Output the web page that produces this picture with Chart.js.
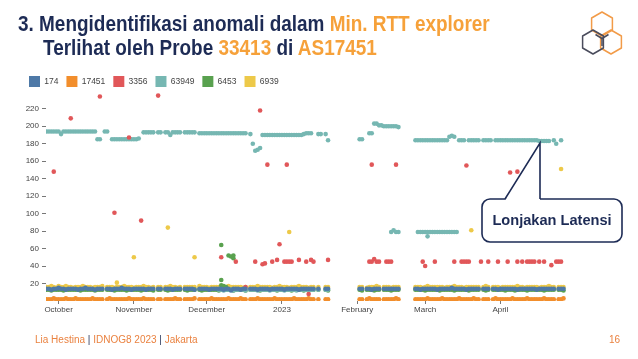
<!DOCTYPE html>
<html>
<head>
<meta charset="utf-8">
<script src="https://cdn.jsdelivr.net/npm/chart.js@4.4.1/dist/chart.umd.min.js"></script>
<style>
  html, body { margin: 0; padding: 0; background: #fff; }
  body { width: 638px; height: 359px; position: relative; overflow: hidden; font-family: 'Liberation Sans', Arial, sans-serif; }
  #chart { position: absolute; left: 0; top: 0; }
  .title { position: absolute; white-space: nowrap; font-weight: bold; font-size: 22px; line-height: 1; color: #1d2b55;
           font-family: 'Liberation Sans Narrow', 'Liberation Sans', Arial, sans-serif; transform-origin: 0 0; }
  .title .hl { color: #f6a13a; }
  #footer { position: absolute; left: 35px; top: 335px; font-size: 10px; line-height: 1; color: #ea8240; white-space: nowrap; }
  #footer .sep { color: #2d3a5e; }
  #page { position: absolute; left: 598px; width: 22px; text-align: right; top: 335px; font-size: 10px; line-height: 1; color: #ea8240; }
  svg.overlay { position: absolute; left: 0; top: 0; pointer-events: none; }
</style>
</head>
<body>
<canvas id="chart" width="638" height="359"></canvas>

<div class="title" id="t1" style="left:18px; top:13px;">3. Mengidentifikasi anomali dalam <span class="hl">Min. RTT explorer</span></div>
<div class="title" id="t2" style="left:43px; top:37px;">Terlihat oleh Probe <span class="hl">33413</span> di <span class="hl">AS17451</span></div>

<svg class="overlay" width="638" height="359">
  <!-- logo -->
  <g fill="none" stroke-width="1.5" stroke-linejoin="round">
    <polygon points="602,12 612.4,18 612.4,30 602,36 591.6,30 591.6,18" stroke="#f29b48"/>
    <polygon points="611,30 621.4,36 621.4,48 611,54 600.6,48 600.6,36" stroke="#f29b48"/>
    <polygon points="593,30 603.4,36 603.4,48 593,54 582.6,48 582.6,36" stroke="#4a4c5c"/>
    <polyline points="595.5,34.5 602,38.5 608.5,34.5" stroke="#4a4c5c"/>
    <line x1="602" y1="38.5" x2="602" y2="46" stroke="#4a4c5c"/>
  </g>
  <!-- callout -->
  <rect x="482" y="199" width="140" height="43" rx="8" fill="#fff" stroke="#1d2b55" stroke-width="1.6"/>
  <polygon points="505,200.5 540,143 540,200.5" fill="#fff"/>
  <polyline points="505,199 540,143 540,199" fill="none" stroke="#1d2b55" stroke-width="1.6"/>
  <text x="552" y="225" text-anchor="middle" font-family="Liberation Sans, Arial, sans-serif" font-weight="bold" font-size="14.6" fill="#1d2b55">Lonjakan Latensi</text>
</svg>

<div id="footer">Lia Hestina <span class="sep">|</span> IDNOG8 2023 <span class="sep">|</span> Jakarta</div>
<div id="page">16</div>

<script>
// day 0 = 1 Oct 2022, daily arrays begin at DAY0 (26 Sep 2022)
const _ = null;
const DAY0 = -5;

const monthDays = [0, 31, 61, 92, 123, 151, 182];
const monthLabels = ['October', 'November', 'December', '2023', 'February', 'March', 'April'];
const yTicks = [20, 40, 60, 80, 100, 120, 140, 160, 180, 200, 220];

// min RTT (ms) per day
const as174 = [
  14,14,13,14,14,15,14,14,13,14, 14,14,14,13,14,14,15,14,14,14, 13,14,14,14,_,14,14,13,14,14,
  14,15,14,14,14,13,14,14,14,14, 14,13,14,14,14,_,14,14,_,14, 14,14,13,14,14,14,_,14,14,14,
  14,13,_,14,14,14,14,13,14,14, 14,14,14,13,14,14,12,14,14,14, 13,14,14,_,14,14,14,13,14,14,
  14,14,13,14,14,14,14,14,13,14, 14,14,14,14,13,14,14,14,14,14, 14,_,14,_,_,14,14,_,_,_,
  _,_,_,_,_,_,_,_,_,14, 14,_,14,14,13,14,14,14,_,14, 14,14,14,14,14,14,_,_,_,_,
  _,_,14,14,13,14,14,14,14,14, 14,13,14,14,14,14,14,15,14,14, 14,14,14,13,14,14,14,14,14,_,
  14,14,14,_,14,14,13,14,14,14, 14,14,14,14,13,14,14,14,14,14, 14,14,13,14,14,14,14,14,14,14,
  _,14,14,14
];
const as17451 = [
  2,2,2,3,2,2,2,2,3,2, 2,2,3,2,2,2,2,2,2,3, 2,2,2,2,_,2,3,2,2,2,
  2,2,2,2,3,2,2,2,2,2, 3,2,2,2,2,_,2,2,_,2, 2,2,2,3,2,2,_,2,2,2,
  2,3,_,2,2,2,2,2,3,2, 2,2,2,2,2,3,2,2,2,2, 3,2,2,_,2,2,2,3,2,2,
  2,2,2,2,3,2,2,2,2,2, 2,2,3,2,2,2,2,2,3,2, 2,_,2,_,_,2,2,_,_,_,
  _,_,_,_,_,_,_,_,_,2, 2,_,2,3,2,2,2,2,_,2, 2,2,2,2,3,2,_,_,_,_,
  _,_,2,2,2,2,2,3,2,2, 2,2,2,3,2,2,2,2,2,2, 3,2,2,2,2,2,3,2,2,_,
  2,2,2,_,2,3,2,2,2,2, 2,2,3,2,2,2,2,2,3,2, 2,2,2,2,2,3,2,2,2,2,
  _,2,2,3
];
const as63949 = [
  194,194,194,194,194,194,191,194,194,194, 194,194,194,194,194,194,194,194,194,194, 194,185,185,_,194,194,_,185,185,185,
  185,185,185,185,185,185,185,185,186,_, 193,193,193,193,193,_,193,193,_,193, 193,190,193,193,193,193,_,193,193,193,
  193,193,_,192,192,192,192,192,192,192, 192,192,192,192,192,192,192,192,192,192, 192,192,192,_,191,180,172,173,175,190,
  190,190,190,190,190,190,190,190,190,190, 190,190,190,190,190,190,191,192,192,192, _,_,191,191,_,191,184,_,_,_,
  _,_,_,_,_,_,_,_,_,185, 185,_,_,192,192,203,203,201,201,200, 200,200,200,200,200,199,_,_,_,_,
  _,_,184,184,184,184,184,184,184,184, 184,184,184,184,184,184,188,189,188,_, 184,184,184,_,184,184,184,184,184,_,
  184,184,184,184,_,184,184,184,184,184, 184,184,184,184,184,184,184,184,184,184, 184,184,184,183,183,183,183,183,_,184,
  180,_,184,_
];
// second 63949 band near the bottom, from day 66
const LOW63949_START = 66;
const as63949Low = [
  13,13,12,13,13,13,12,13,13,13,13,12, _,
  13,13,13,12,13,13,13,13,12,13,13,13,13,13,12,13,13,13,13,12,13,13,13,13,12,13,13,
  _, 13, _,_, 13,13
];
const as6453 = [
  13,13,12,13,13,13,13,12,13,13, 13,13,13,13,12,13,13,13,13,13, 12,13,13,13,_,13,13,13,12,13,
  13,13,13,12,13,13,13,13,13,12, 13,13,13,13,12,_,13,13,_,13, 12,13,13,13,13,13,_,13,12,13,
  13,13,_,13,12,13,13,13,13,13, 13,12,13,13,13,13,13,12,13,13, 13,13,12,_,13,13,13,13,12,13,
  13,13,13,13,13,12,13,13,13,13, 13,12,13,13,13,13,12,13,13,13, 13,_,13,_,_,13,12,_,_,_,
  _,_,_,_,_,_,_,_,_,13, 12,_,13,13,13,12,13,13,_,13, 13,13,12,13,13,13,_,_,_,_,
  _,_,13,13,13,13,12,13,13,13, 13,13,12,13,13,13,13,13,12,13, 13,13,13,13,12,13,13,13,13,_,
  13,12,13,_,13,13,13,13,13,12, 13,13,13,12,13,13,13,13,12,13, 13,13,13,13,13,12,13,13,13,13,
  _,13,13,12
];
const as6939 = [
  16,16,17,16,15,16,16,16,17,16, 16,15,16,16,16,17,16,16,16,15, 16,16,16,17,_,16,16,16,15,16,
  16,16,17,16,16,16,15,16,16,16, 17,16,16,15,16,_,16,16,_,16, 16,17,16,16,15,16,_,16,16,16,
  16,16,_,17,16,16,16,15,16,16, 16,16,15,16,16,17,16,16,16,16, 16,15,16,_,16,16,16,17,16,16,
  16,16,16,15,16,16,17,16,16,16, 15,16,16,16,17,16,16,16,15,16, 16,_,16,_,_,16,16,_,_,_,
  _,_,_,_,_,_,_,_,_,16, 16,_,15,16,16,16,17,16,_,16, 16,16,15,16,16,16,_,_,_,_,
  _,_,16,16,16,15,16,17,16,16, 16,16,16,16,15,16,16,16,17,16, 16,16,15,16,16,16,16,16,16,_,
  16,17,16,_,16,16,16,15,16,16, 16,16,16,16,17,16,16,15,16,16, 16,16,16,15,16,16,16,17,16,16,
  _,16,16,16
];

// scattered readings [day, ms]
const as3356Pts = [
  [-2,148],[5,209],[17,234],[23,101],[29,187],[34,92],[41,235],[67,50],[73,45],[77,16],
  [81,45],[83,218],[84,42],[85,43],[86,156],[88,45],[90,47],[91,65],[93,45],[94,45],[94,156],
  [95,45],[96,45],[99,47],[102,45],[103,8],[104,47],[105,45],[111,47],
  [128,45],[129,45],[129,156],[130,48],[131,45],[132,45],[135,45],[136,45],[137,45],[139,156],
  [150,45],[151,40],[155,45],[163,45],[166,45],[167,45],[168,45],[168,155],[169,45],[174,45],
  [177,45],[181,45],[185,45],[186,147],[189,45],[189,148],[191,45],[193,45],[194,45],[195,45],
  [196,45],[198,45],[200,45],[203,41],[205,45],[206,45],[207,45]
];
const as63949Pts = [
  [137,79],[138,81],[139,79],[140,79],[148,79],[149,79],[150,79],[151,79],[152,79],[152,74],
  [153,79],[154,79],[155,79],[156,79],[157,79],[158,79],[159,79],[160,79],[161,79],[162,79],
  [163,79],[164,79]
];
const as6453Pts = [[67,64],[67,24],[67,18],[68,17],[69,16],[70,52],[71,51],[72,52],[72,49]];
const as6939Pts = [[0,17],[24,21],[31,50],[45,84],[56,50],[95,79],[170,81],[207,151]];
const offScalePts = [[210,250]]; // 6939 above the axis range

const labels = ['174', '17451', '3356', '63949', '6453', '6939'];
const colors = ['#4e79a7', '#f28e2c', '#e15759', '#76b7b2', '#59a14f', '#edc949'];

function daily(values, start) {
  return values.map((v, i) => v === null ? null : { x: start + i, y: v }).filter(Boolean);
}
function pairs(list) {
  return list.map(([x, y]) => ({ x: x, y: y }));
}

const seriesPoints = [
  daily(as174, DAY0),
  daily(as17451, DAY0),
  pairs(as3356Pts),
  daily(as63949, DAY0).concat(daily(as63949Low, LOW63949_START), pairs(as63949Pts)),
  daily(as6453, DAY0).concat(pairs(as6453Pts)),
  daily(as6939, DAY0).concat(pairs(as6939Pts))
];

const datasets = seriesPoints.map((pts, i) => ({
  label: labels[i], data: pts,
  backgroundColor: colors[i], borderColor: colors[i], borderWidth: 0,
  pointRadius: 2.3, pointBorderWidth: 0
}));
datasets.push({
  label: 'offscale', data: pairs(offScalePts), clip: false,
  backgroundColor: colors[5], borderColor: colors[5], borderWidth: 0,
  pointStyle: 'triangle', pointRadius: 3.6, pointBorderWidth: 0
});

// legend is a few px too tall with the padding we need horizontally
const legendTrim = {
  id: 'legendTrim',
  beforeInit(chart) {
    const fit = chart.legend.fit;
    chart.legend.fit = function () { fit.call(this); this.height -= 4; };
  }
};

const tickFont = { family: "'Liberation Sans', Arial, sans-serif", size: 8 };

new Chart(document.getElementById('chart'), {
  type: 'scatter',
  data: { datasets: datasets },
  plugins: [legendTrim],
  options: {
    responsive: false, animation: false, events: [],
    layout: { padding: { left: 21, top: 68, right: 66, bottom: 42 } },
    scales: {
      x: {
        type: 'linear', min: -5.2, max: 211.5,
        afterBuildTicks: s => { s.ticks = monthDays.map(v => ({ value: v })); },
        afterFit: s => { s.height = 16; },
        grid: { drawOnChartArea: false, tickLength: 3, color: '#777' },
        border: { display: false },
        ticks: { autoSkip: false, maxRotation: 0, padding: 1, color: '#444', font: tickFont,
                 callback: (v, i) => monthLabels[i] }
      },
      y: {
        min: 0, max: 238,
        afterBuildTicks: s => { s.ticks = yTicks.map(v => ({ value: v })); },
        afterFit: s => { s.width = 25; },
        grid: { drawOnChartArea: false, tickLength: 4, color: '#777' },
        border: { display: false },
        ticks: { padding: 3, color: '#444', font: tickFont }
      }
    },
    plugins: {
      tooltip: { enabled: false },
      legend: {
        position: 'top', align: 'start',
        labels: {
          boxWidth: 11, boxHeight: 11, padding: 8, color: '#444',
          font: { family: "'Liberation Sans', Arial, sans-serif", size: 8.5 },
          filter: item => item.datasetIndex < 6
        }
      }
    }
  }
});

// squeeze the title to the narrow face width of the slide
const t1 = document.getElementById('t1');
const sx = 472 / t1.offsetWidth;
document.querySelectorAll('.title').forEach(el => { el.style.transform = 'scaleX(' + sx + ')'; });
</script>
</body>
</html>
